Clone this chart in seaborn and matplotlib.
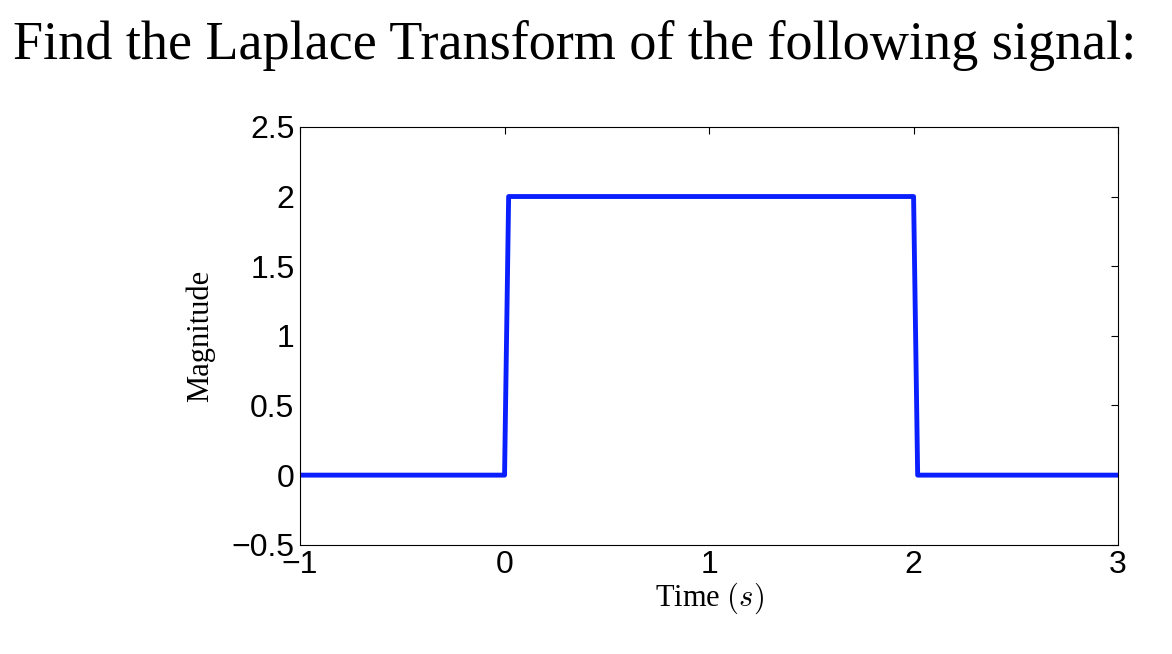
import matplotlib
matplotlib.use("Agg")
import matplotlib.pyplot as plt
import seaborn as sns
import pandas as pd

t = [-1, 0, 0.02, 2, 2.02, 3]
mag = [0, 0, 2, 2, 0, 0]
xticks = [-1, 0, 1, 2, 3]
yticks = [-0.5, 0, 0.5, 1, 1.5, 2, 2.5]
ylabels = ["\u22120.5", "0", "0.5", "1", "1.5", "2", "2.5"]
xlabels = ["\u22121", "0", "1", "2", "3"]

sns.set_style("white")
plt.rcParams['font.family'] = ['Liberation Sans', 'DejaVu Sans']
plt.rcParams['mathtext.fontset'] = 'cm'
plt.rcParams['text.color'] = 'black'
plt.rcParams['axes.labelcolor'] = 'black'

fig = plt.figure(figsize=(11.72, 6.54), dpi=100)
ax = fig.add_axes([0.256, 0.167, 0.698, 0.639])
df = pd.DataFrame({"t": t, "m": mag})
sns.lineplot(data=df, x="t", y="m", ax=ax, color="#0a1fff", lw=3.5, sort=False)
ax.set_xlim(-1, 3)
ax.set_ylim(-0.5, 2.5)
ax.set_xticks(xticks)
ax.set_xticklabels(xlabels)
ax.set_yticks(yticks)
ax.set_yticklabels(ylabels)
ax.tick_params(direction='in', top=True, right=True, labelsize=23, length=5, width=0.8,
               colors='black', pad=4)
for s in ax.spines.values():
    s.set_color('black'); s.set_linewidth(0.8)
ax.set_xlabel("Time $(s)$", fontsize=22, family='Liberation Serif', labelpad=0, color='black')
ax.set_ylabel("Magnitude", fontsize=22, family='Liberation Serif', labelpad=12, color='black')
fig.text(0.49, 0.93, "Find the Laplace Transform of the following signal:", ha='center', va='center',
         fontsize=39, family='Liberation Serif', color='black')
fig.savefig("out.png", dpi=100)
